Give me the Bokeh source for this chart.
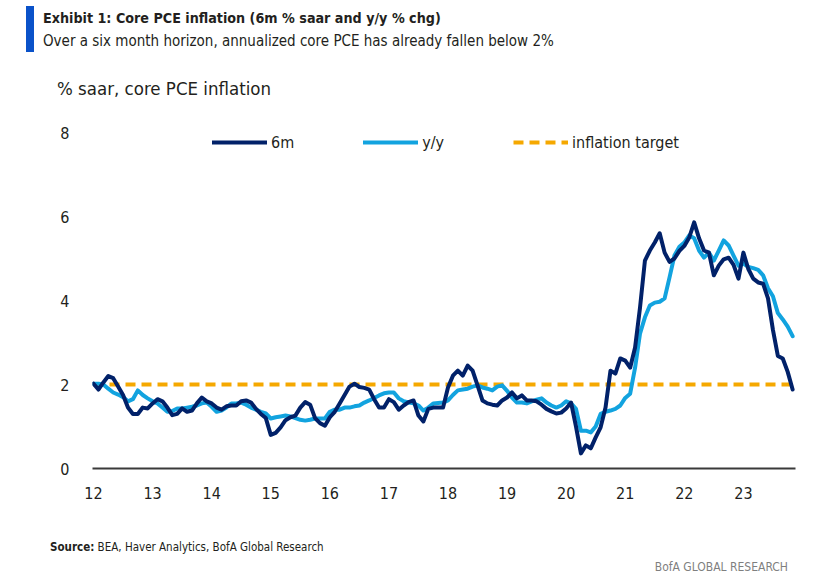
from bokeh.plotting import figure
from bokeh.layouts import column
from bokeh.models import Range1d, FixedTicker, Legend, LegendItem, Div
from bokeh.embed import file_html
from bokeh.resources import INLINE

# Core PCE inflation, monthly from Jan 2012 to Nov 2023 (%)
FIRST_YEAR = 12  # two-digit year of the first observation (January)

six_month_saar = [
    2.02, 1.88, 2.05, 2.20, 2.15, 1.95, 1.75, 1.45, 1.30, 1.30, 1.45, 1.43,   # 2012
    1.55, 1.65, 1.60, 1.45, 1.27, 1.30, 1.43, 1.35, 1.38, 1.55, 1.69, 1.60,   # 2013
    1.55, 1.45, 1.40, 1.48, 1.50, 1.50, 1.60, 1.62, 1.57, 1.42, 1.30, 1.20,   # 2014
    0.80, 0.85, 0.98, 1.15, 1.22, 1.26, 1.45, 1.58, 1.52, 1.20, 1.08, 1.02,   # 2015
    1.22, 1.35, 1.55, 1.75, 1.95, 2.02, 1.94, 1.92, 1.88, 1.65, 1.45, 1.45,   # 2016
    1.65, 1.58, 1.40, 1.50, 1.58, 1.62, 1.26, 1.12, 1.42, 1.45, 1.45, 1.45,   # 2017
    1.93, 2.21, 2.33, 2.21, 2.45, 2.33, 1.98, 1.62, 1.55, 1.52, 1.50, 1.62,   # 2018
    1.69, 1.81, 1.67, 1.74, 1.62, 1.62, 1.60, 1.52, 1.42, 1.36, 1.31, 1.33,   # 2019
    1.43, 1.57, 1.00, 0.36, 0.55, 0.48, 0.74, 0.98, 1.45, 2.33, 2.26, 2.62,   # 2020
    2.57, 2.40, 2.88, 3.83, 4.95, 5.19, 5.38, 5.60, 5.14, 4.92, 5.00, 5.18,   # 2021
    5.30, 5.50, 5.86, 5.48, 5.19, 5.14, 4.60, 4.83, 4.98, 5.02, 4.85, 4.52,   # 2022
    5.14, 4.75, 4.52, 4.43, 4.40, 4.05, 3.30, 2.68, 2.62, 2.30, 1.88,         # 2023
]

year_over_year = [
    2.02, 2.02, 2.00, 1.90, 1.81, 1.76, 1.70, 1.60, 1.65, 1.86, 1.75, 1.67,   # 2012
    1.60, 1.55, 1.45, 1.35, 1.37, 1.43, 1.43, 1.45, 1.47, 1.50, 1.55, 1.57,   # 2013
    1.47, 1.35, 1.38, 1.45, 1.55, 1.55, 1.57, 1.52, 1.45, 1.40, 1.35, 1.31,   # 2014
    1.19, 1.22, 1.24, 1.26, 1.24, 1.20, 1.16, 1.14, 1.16, 1.19, 1.19, 1.19,   # 2015
    1.35, 1.40, 1.40, 1.45, 1.45, 1.48, 1.50, 1.57, 1.62, 1.68, 1.74, 1.79,   # 2016
    1.81, 1.81, 1.67, 1.60, 1.57, 1.55, 1.50, 1.38, 1.45, 1.55, 1.56, 1.57,   # 2017
    1.62, 1.75, 1.86, 1.88, 1.90, 1.95, 1.98, 1.93, 1.90, 1.86, 1.95, 1.98,   # 2018
    1.85, 1.69, 1.57, 1.57, 1.55, 1.60, 1.64, 1.67, 1.57, 1.50, 1.45, 1.50,   # 2019
    1.60, 1.55, 1.42, 0.90, 0.90, 0.86, 1.00, 1.30, 1.35, 1.38, 1.42, 1.50,   # 2020
    1.68, 1.78, 2.40, 3.21, 3.60, 3.88, 3.95, 3.97, 4.05, 4.55, 5.07, 5.28,   # 2021
    5.38, 5.55, 5.48, 5.19, 5.02, 5.14, 4.95, 5.19, 5.43, 5.31, 5.07, 4.83,   # 2022
    4.88, 4.80, 4.77, 4.73, 4.60, 4.29, 4.10, 3.70, 3.55, 3.38, 3.15,         # 2023
]

INFLATION_TARGET = 2.0
year_ticks = list(range(12, 24))
value_ticks = [0, 2, 4, 6, 8]
series_names = ["6m", "y/y", "inflation target"]

NAVY = "#012169"
SKY = "#12A3DF"
GOLD = "#F5A800"
TEXT = "#231F20"
FONT = "DejaVu Sans Condensed"

W = 836
HEAD_H, CHART_H, FOOT_H = 110, 410, 60

months = [FIRST_YEAR + i / 12 for i in range(len(six_month_saar))]


def span(text, left, top, size, weight="normal", color=TEXT, right=None):
    where = f"right:{right}px;" if right is not None else f"left:{left}px;"
    return (f'<div style="position:absolute;{where}top:{top}px;font-size:{size}px;'
            f'line-height:1;font-weight:{weight};color:{color};white-space:nowrap;">{text}</div>')


def strip(height, inner):
    box = (f'<div style="position:relative;width:{W}px;height:{height}px;'
           f"font-family:'{FONT}', 'DejaVu Sans', sans-serif;\">{inner}</div>")
    return Div(text=box, width=W, height=height, margin=0)


# header: accent bar, title, subtitle, unit caption
header = strip(HEAD_H,
               '<div style="position:absolute;left:26px;top:6px;width:8px;height:46px;'
               'background:#0A52C9;"></div>'
               + span("Exhibit 1: Core PCE inflation (6m % saar and y/y % chg)", 43, 11, 14.2, "bold")
               + span("Over a six month horizon, annualized core PCE has already fallen below 2%", 43, 34, 15)
               + span("% saar, core PCE inflation", 57, 80, 18.5))

# chart
p = figure(
    width=W, height=CHART_H,
    x_range=Range1d(11.983, 23.882), y_range=Range1d(0, 8),
    output_backend="svg", toolbar_location=None,
    min_border_left=92, min_border_right=41,
    min_border_top=22, min_border_bottom=52,
)
p.outline_line_color = None
p.xgrid.visible = False
p.ygrid.visible = False

p.xaxis.ticker = FixedTicker(ticks=year_ticks)
p.xaxis.axis_line_color = "#3A3A3A"
p.xaxis.axis_line_width = 2
p.xaxis.major_tick_line_color = None
p.xaxis.minor_tick_line_color = None
p.xaxis.major_label_standoff = 12
p.xaxis.major_label_text_font = FONT
p.xaxis.major_label_text_font_size = "16px"
p.xaxis.major_label_text_color = TEXT

p.yaxis.ticker = FixedTicker(ticks=value_ticks)
p.yaxis.axis_line_color = None
p.yaxis.major_tick_line_color = None
p.yaxis.minor_tick_line_color = None
p.yaxis.major_label_standoff = 17
p.yaxis.major_label_text_font = FONT
p.yaxis.major_label_text_font_size = "16px"
p.yaxis.major_label_text_color = TEXT

r_target = p.line([months[0], months[-1]], [INFLATION_TARGET, INFLATION_TARGET],
                  line_color=GOLD, line_width=4, line_dash="10 6")
r_yoy = p.line(months, year_over_year, line_color=SKY, line_width=4,
               line_join="round", line_cap="round")
r_6m = p.line(months, six_month_saar, line_color=NAVY, line_width=4,
              line_join="round", line_cap="round")

legend = Legend(
    items=[LegendItem(label=series_names[0], renderers=[r_6m]),
           LegendItem(label=series_names[1], renderers=[r_yoy]),
           LegendItem(label=series_names[2], renderers=[r_target])],
    orientation="horizontal", location=(120, 316),
    glyph_width=55, glyph_height=20, label_height=20, label_standoff=4,
    spacing=69, padding=0, margin=0,
    border_line_color=None, background_fill_alpha=0,
    label_text_font=FONT, label_text_font_size="16px", label_text_color=TEXT,
)
p.add_layout(legend, "center")

# footer: source line and house mark
footer = strip(FOOT_H,
               span("<b>Source:</b> BEA, Haver Analytics, BofA Global Research", 50, 22, 11.5)
               + span("BofA GLOBAL RESEARCH", 0, 41, 12, color="#7F7F7F", right=W - 788))

page = column(header, p, footer, spacing=0)
open("out.html", "w").write(file_html(page, INLINE))
